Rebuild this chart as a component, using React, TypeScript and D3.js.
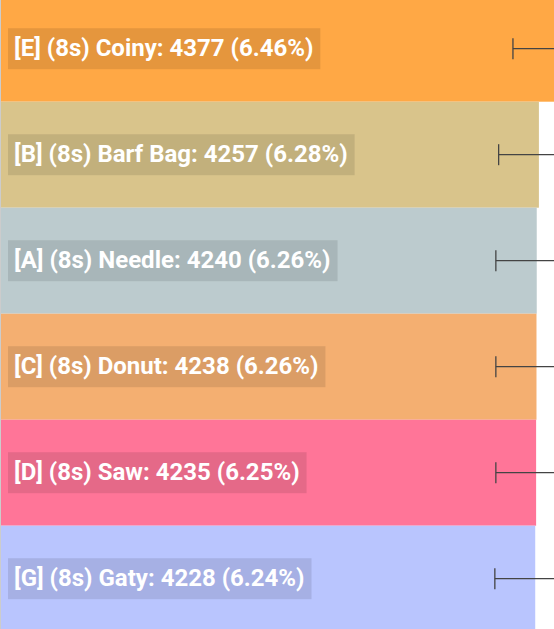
import React from "react";
import * as d3 from "d3";

const codes = ["E", "B", "A", "C", "D", "G"];
const names = ["Coiny", "Barf Bag", "Needle", "Donut", "Saw", "Gaty"];
const durations = ["8s", "8s", "8s", "8s", "8s", "8s"];
const values = [4377, 4257, 4240, 4238, 4235, 4228];
const percents = ["6.46%", "6.28%", "6.26%", "6.26%", "6.25%", "6.24%"];
const errors = [325, 318, 323, 321, 318, 319];
const colors = ["#FFA845", "#D9C48B", "#BCCBCE", "#F4AF71", "#FF7598", "#B9C5FE"];

const W = 554;
const H = 629;

export default function App() {
  React.useEffect(() => {
    document.body.style.margin = "0";
  }, []);
  const x = d3.scaleLinear().domain([0, 4400]).range([0, 557]);
  const y = d3
    .scaleBand<string>()
    .domain(codes)
    .range([-4.3, -4.3 + 106 * codes.length])
    .paddingInner(0)
    .paddingOuter(0);
  const textRefs = React.useRef<(SVGTextElement | null)[]>([]);
  const [widths, setWidths] = React.useState<number[]>([]);
  React.useEffect(() => {
    setWidths(textRefs.current.map((t) => (t ? t.getBBox().width : 0)));
  }, []);
  return (
    <svg
      width={W}
      height={H}
      style={{ position: "absolute", left: 0, top: 0, display: "block" }}
      fontFamily="Roboto, sans-serif"
    >
      <rect x={0} y={0} width={W} height={H} fill="#fff" />
      {codes.map((c, i) => {
        const top = y(c)!;
        const bw = y.bandwidth();
        const cy = top + bw / 2;
        const label = `[${c}] (${durations[i]}) ${names[i]}: ${values[i]} (${percents[i]})`;
        const lo = x(values[i] - errors[i]);
        const hi = x(values[i] + errors[i]);
        const tw = widths[i] || 0;
        return (
          <g key={c}>
            <rect x={x(0)} y={top} width={x(values[i]) - x(0)} height={bw} fill={colors[i]} />
            <rect x={8} y={cy - 20.5} width={tw + 13} height={41} fill="rgba(0,0,0,0.1)" />
            <text
              ref={(el) => {
                textRefs.current[i] = el;
              }}
              x={14}
              y={cy + 7}
              fill="#fff"
              fontSize={24}
              fontWeight="bold"
            >
              {label}
            </text>
            <line x1={lo} x2={hi} y1={cy} y2={cy} stroke="#444" strokeWidth={1.3} />
            <line x1={lo} x2={lo} y1={cy - 10.5} y2={cy + 10.5} stroke="#444" strokeWidth={1.3} />
            <line x1={hi} x2={hi} y1={cy - 10.5} y2={cy + 10.5} stroke="#444" strokeWidth={1.3} />
          </g>
        );
      })}
      <line x1={0.5} x2={0.5} y1={0} y2={H} stroke="#ccc" strokeWidth={1} />
    </svg>
  );
}
